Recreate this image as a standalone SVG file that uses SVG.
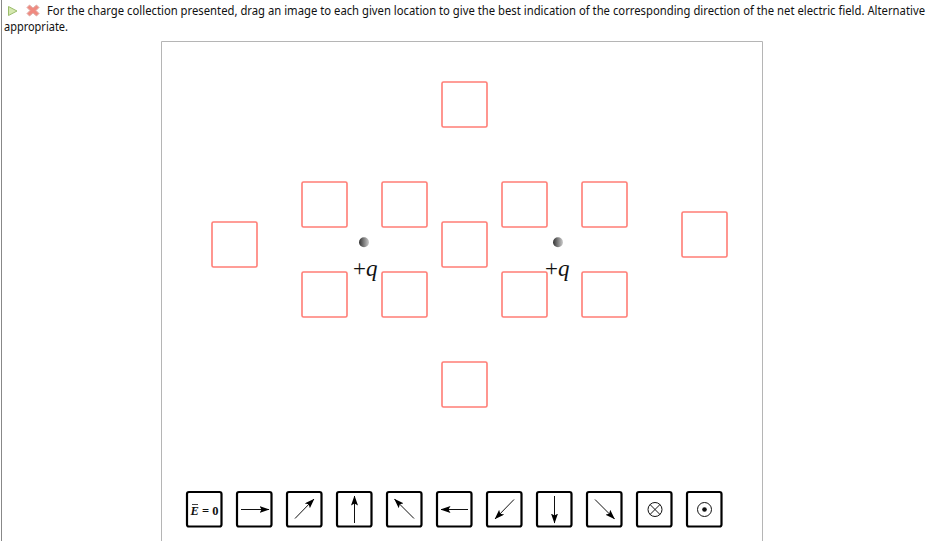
<svg xmlns="http://www.w3.org/2000/svg" width="928" height="541" viewBox="0 0 928 541">
<style>
.t{font-family:"Noto Sans","DejaVu Sans",sans-serif;font-size:12px;fill:#111}
.m{font-family:"Liberation Serif",serif;fill:#111}
.d{fill:#fff;stroke:#ff7d75;stroke-width:1.6}
.b{fill:#fff;stroke:#000;stroke-width:2.200}
.a{stroke:#111;stroke-width:1;fill:none;marker-end:url(#h)}
</style>
<defs>
<marker id="h" viewBox="0 0 10 7" refX="9.500" refY="3.500" markerWidth="10" markerHeight="7" markerUnits="userSpaceOnUse" orient="auto"><path d="M0 0L10 3.500L0 7L2 3.500Z" fill="#000"/></marker>
<linearGradient id="g"><stop offset="0" stop-color="#333"/><stop offset="1" stop-color="#ccc"/></linearGradient>
<rect id="dz" class="d" width="45" height="45" rx="1.5"/>
<rect id="bx" class="b" width="34.500" height="34.500" rx="2"/>
</defs>
<rect width="928" height="541" fill="#fff"/>
<path d="M1.500 0V541" stroke="#888" stroke-width="1"/>
<g id="icons">
<path d="M8.500 6.500L17 11L8.500 15.500Z" fill="#d5e8b0" stroke="#9bbd6c"/>
<path d="M27 7.500L29.500 5L33 8L36.500 5L39 7.500L36 10.500L39 13.500L36.500 16L33 13L29.500 16L27 13.500L30 10.500Z" fill="#f08a80" stroke="#e0b0aa"/>
</g>
<text class="t" x="47" y="15" textLength="878" lengthAdjust="spacingAndGlyphs">For the charge collection presented, drag an image to each given location to give the best indication of the corresponding direction of the net electric field. Alternative</text>
<text class="t" x="4" y="31" textLength="64" lengthAdjust="spacingAndGlyphs">appropriate.</text>
<path d="M161.500 541V41.500H762.500V541" fill="none" stroke="#b5b5b5"/>
<g id="drop-zones">
<use href="#dz" x="442" y="82"/>
<use href="#dz" x="302" y="182"/>
<use href="#dz" x="382" y="182"/>
<use href="#dz" x="502" y="182"/>
<use href="#dz" x="582" y="182"/>
<use href="#dz" x="212" y="222"/>
<use href="#dz" x="442" y="222"/>
<use href="#dz" x="682" y="212"/>
<use href="#dz" x="302" y="272"/>
<use href="#dz" x="382" y="272"/>
<use href="#dz" x="502" y="272"/>
<use href="#dz" x="582" y="272"/>
<use href="#dz" x="442" y="362"/>
</g>
<g id="charge-1">
<circle cx="364" cy="242.300" r="5" fill="url(#g)"/>
<text class="m" x="353" y="276" font-size="23">+<tspan font-style="italic">q</tspan></text>
</g>
<g id="charge-2">
<circle cx="558" cy="242.300" r="5" fill="url(#g)"/>
<text class="m" x="545" y="276" font-size="23">+<tspan font-style="italic">q</tspan></text>
</g>
<g id="tile-zero"><use href="#bx" x="187" y="492"/>
<text class="m" x="190.500" y="514.500" font-size="12.500" font-weight="bold" textLength="28"><tspan font-style="italic">E</tspan> = 0</text>
<path d="M192 504.500h6" stroke="#111" stroke-width="0.800"/></g>
<g id="tile-right"><use href="#bx" x="237" y="492"/><path class="a" d="M241 509.500H269"/></g>
<g id="tile-up-right"><use href="#bx" x="287" y="492"/><path class="a" d="M295 518.500L314 499"/></g>
<g id="tile-up"><use href="#bx" x="337" y="492"/><path class="a" d="M354.500 523V496"/></g>
<g id="tile-up-left"><use href="#bx" x="387" y="492"/><path class="a" d="M414 518.500L394.500 499"/></g>
<g id="tile-left"><use href="#bx" x="437" y="492"/><path class="a" d="M468 509.500H441"/></g>
<g id="tile-down-left"><use href="#bx" x="487" y="492"/><path class="a" d="M514 499.500L495 519"/></g>
<g id="tile-down"><use href="#bx" x="537" y="492"/><path class="a" d="M554.500 496V523"/></g>
<g id="tile-down-right"><use href="#bx" x="587" y="492"/><path class="a" d="M595 499.500L614.500 519"/></g>
<g id="tile-into"><use href="#bx" x="637" y="492"/><circle cx="655" cy="509.500" r="7" fill="none" stroke="#111"/><path d="M650 504.500L660 514.500M660 504.500L650 514.500" stroke="#111"/></g>
<g id="tile-out"><use href="#bx" x="687" y="492"/><circle cx="704.500" cy="509.500" r="7" fill="none" stroke="#111"/><circle cx="704.500" cy="509.500" r="2.300" fill="#111"/></g>
</svg>
